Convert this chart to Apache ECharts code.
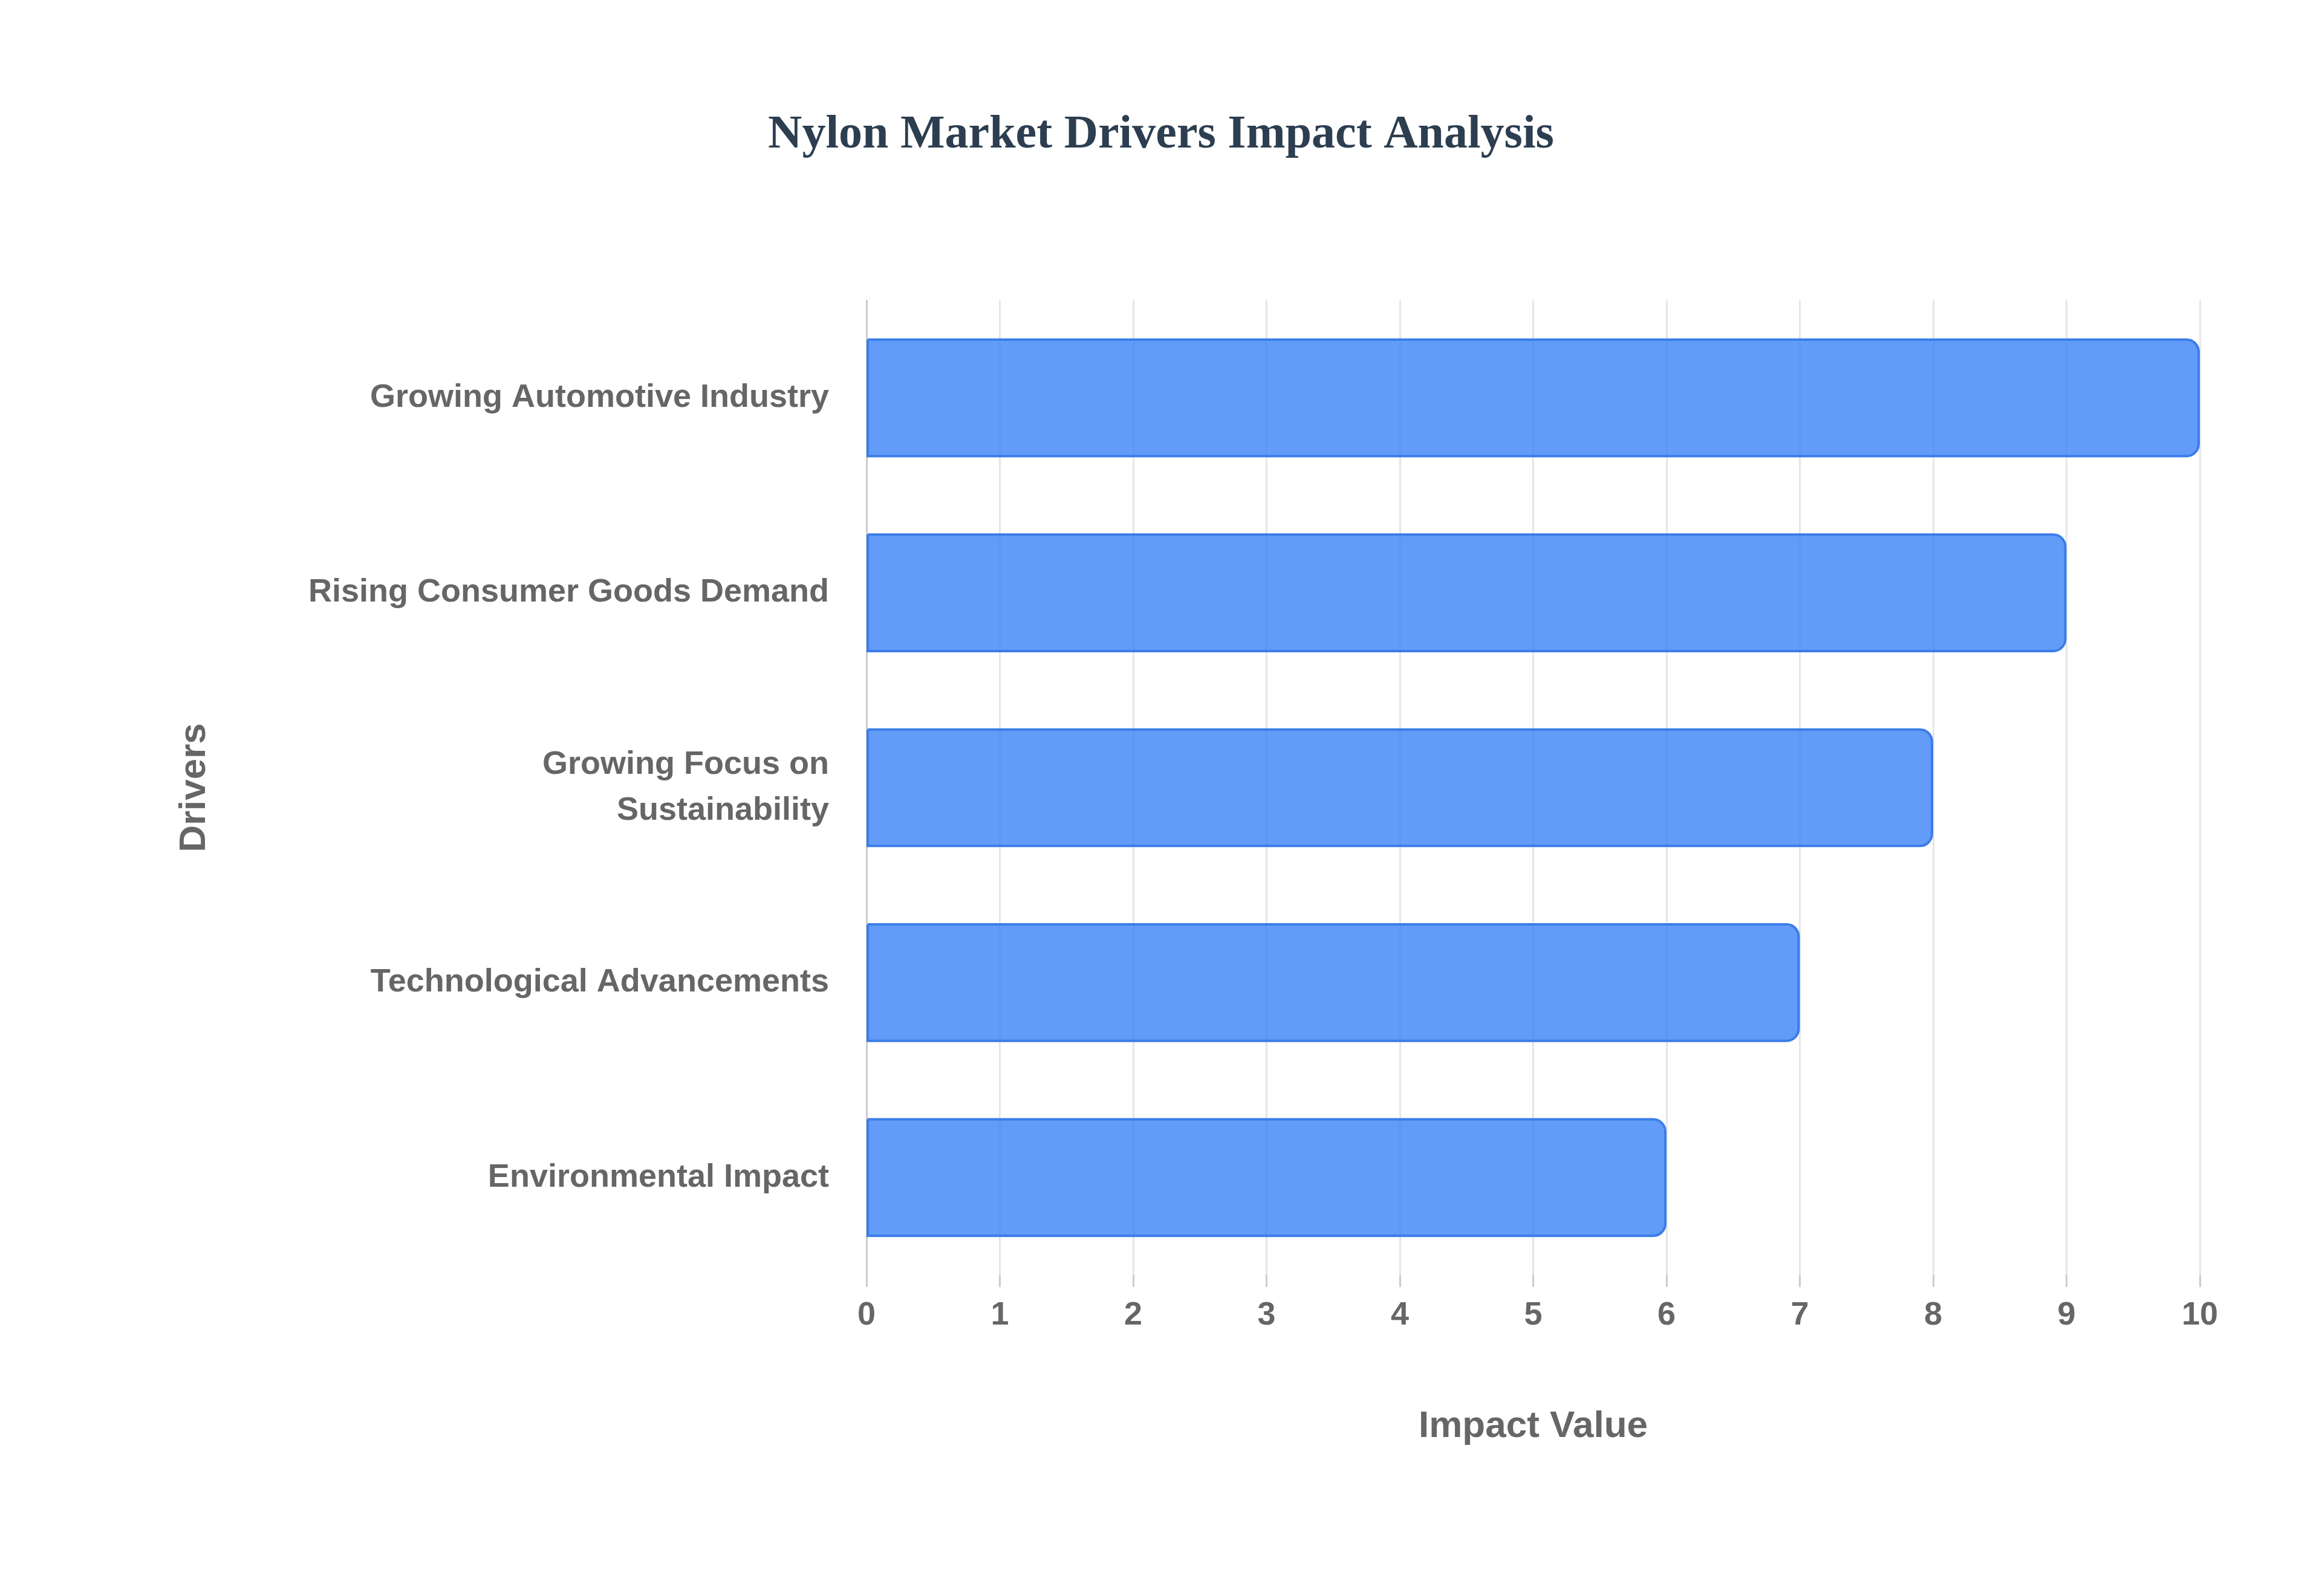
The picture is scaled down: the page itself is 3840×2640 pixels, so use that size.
<!DOCTYPE html>
<html>
<head>
<meta charset="utf-8">
<script src="https://cdn.jsdelivr.net/npm/echarts@6/dist/echarts.min.js"></script>
<style>html,body{margin:0;padding:0;background:#fff}#chart{width:3840px;height:2640px}</style>
</head>
<body>
<div id="chart"></div>
<script>
const drivers = ['Environmental Impact', 'Technological Advancements', 'Growing Focus on\nSustainability', 'Rising Consumer Goods Demand', 'Growing Automotive Industry'];
const impactValues = [6, 7, 8, 9, 10];

const chart = echarts.init(document.getElementById('chart'));
chart.setOption({
  animation: false,
  backgroundColor: '#fff',
  title: {
    text: 'Nylon Market Drivers Impact Analysis',
    left: 'center',
    top: 180,
    textStyle: { fontFamily: 'Liberation Serif', fontWeight: 'bold', fontSize: 78, color: '#2c3e50' }
  },
  grid: { left: 1433, right: 202, top: 497, bottom: 531 },
  xAxis: {
    type: 'value',
    min: 0, max: 10, interval: 1,
    name: 'Impact Value',
    nameLocation: 'middle',
    nameGap: 220,
    nameTextStyle: { fontFamily: 'Liberation Sans', fontWeight: 'bold', fontSize: 62, color: '#666' },
    axisLine: { show: false },
    axisTick: { show: true, length: 20, lineStyle: { color: '#ccc', width: 3 } },
    axisLabel: { fontFamily: 'Liberation Sans', fontWeight: 'bold', fontSize: 54, color: '#666', margin: 40 },
    splitLine: { show: true, lineStyle: { color: '#e5e5e5', width: 3 } }
  },
  yAxis: {
    type: 'category',
    data: drivers,
    name: 'Drivers',
    nameLocation: 'middle',
    nameGap: 1080,
    nameRotate: 90,
    nameTextStyle: { fontFamily: 'Liberation Sans', fontWeight: 'bold', fontSize: 62, color: '#666' },
    axisLine: { show: true, lineStyle: { color: '#ccc', width: 3 } },
    axisTick: { show: false },
    axisLabel: { fontFamily: 'Liberation Sans', fontWeight: 'bold', fontSize: 54, color: '#666', margin: 62, lineHeight: 76, align: 'right' }
  },
  series: [{
    type: 'bar',
    data: impactValues,
    barWidth: '61%',
    itemStyle: { color: 'rgba(59,130,246,0.8)', borderColor: '#3b7de8', borderWidth: 4, borderRadius: [0, 20, 20, 0] }
  }]
});
</script>
</body>
</html>
